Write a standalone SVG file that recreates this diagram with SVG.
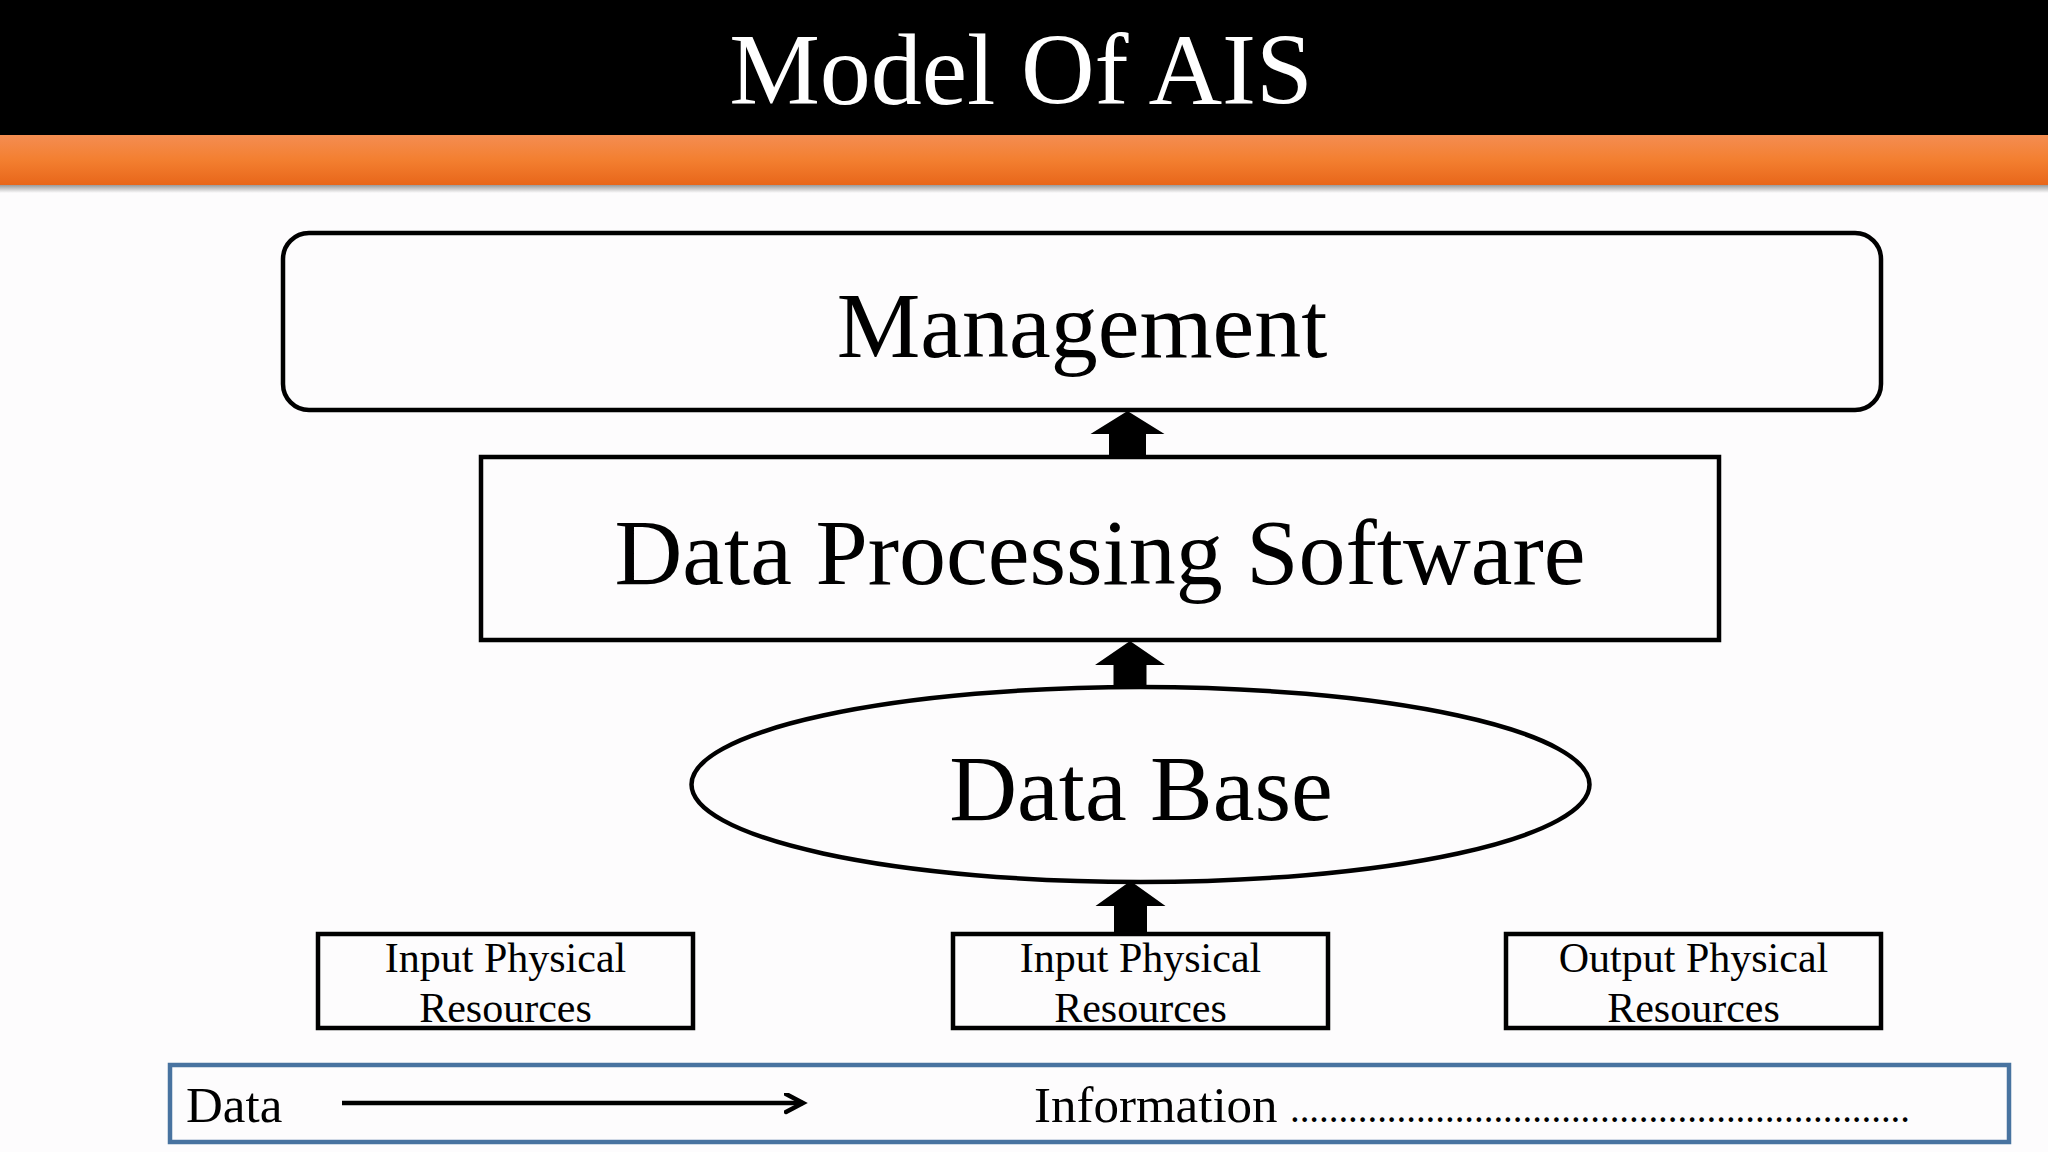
<svg xmlns="http://www.w3.org/2000/svg" width="2048" height="1152" viewBox="0 0 2048 1152">
  <defs>
    <linearGradient id="orange" x1="0" y1="0" x2="0" y2="1">
      <stop offset="0" stop-color="#f48d52"/>
      <stop offset="0.5" stop-color="#f37f30"/>
      <stop offset="1" stop-color="#e8661a"/>
    </linearGradient>
    <linearGradient id="shadow" x1="0" y1="0" x2="0" y2="1">
      <stop offset="0" stop-color="#9a9a9a"/>
      <stop offset="1" stop-color="#fdfcfd"/>
    </linearGradient>
    <marker id="chev" markerWidth="24" markerHeight="24" refX="19" refY="10" orient="auto" markerUnits="userSpaceOnUse">
      <path d="M2,1 L19,10 L2,19" fill="none" stroke="#000" stroke-width="4.5" stroke-linecap="round" stroke-linejoin="miter"/>
    </marker>
  </defs>
  <style>
    .box { fill: #fdfcfd; stroke: #000; stroke-width: 4.5; }
    .big { font-family: "Liberation Serif", "Times New Roman", serif; font-size: 94px; fill: #000; text-anchor: middle; }
    .small { font-family: "Liberation Serif", "Times New Roman", serif; font-size: 42px; fill: #000; text-anchor: middle; }
    .bar { font-family: "Liberation Serif", "Times New Roman", serif; font-size: 51px; fill: #000; }
    .arrow { fill: #000; }
  </style>

  <rect x="0" y="0" width="2048" height="1152" fill="#fdfcfd"/>

  <g id="header">
    <rect x="0" y="0" width="2048" height="135" fill="#000"/>
    <rect x="0" y="135" width="2048" height="50" fill="url(#orange)"/>
    <rect x="0" y="185" width="2048" height="8" fill="url(#shadow)"/>
    <text x="1021" y="104" font-family="Liberation Serif, 'Times New Roman', serif" font-size="102" fill="#fff" text-anchor="middle">Model Of AIS</text>
  </g>

  <g id="management">
    <rect class="box" x="283" y="233" width="1598" height="177" rx="26" ry="26"/>
    <text class="big" x="1082" y="357">Management</text>
  </g>

  <g id="data-processing-software">
    <rect class="box" x="481" y="457" width="1238" height="183"/>
    <text class="big" x="1100" y="584">Data Processing Software</text>
  </g>

  <g id="data-base">
    <ellipse class="box" cx="1140.5" cy="784.5" rx="449" ry="97.5"/>
    <text class="big" x="1141" y="820">Data Base</text>
  </g>

  <g id="input-physical-resources-1">
    <rect class="box" x="318" y="934" width="375" height="94"/>
    <text class="small" x="505.5" y="972">Input Physical</text>
    <text class="small" x="505.5" y="1022">Resources</text>
  </g>

  <g id="input-physical-resources-2">
    <rect class="box" x="953" y="934" width="375" height="94"/>
    <text class="small" x="1140.5" y="972">Input Physical</text>
    <text class="small" x="1140.5" y="1022">Resources</text>
  </g>

  <g id="output-physical-resources">
    <rect class="box" x="1506" y="934" width="375" height="94"/>
    <text class="small" x="1693.5" y="972">Output Physical</text>
    <text class="small" x="1693.5" y="1022">Resources</text>
  </g>

  <g id="data-information-bar">
    <rect x="170" y="1065" width="1839" height="77" fill="#fdfcfd" stroke="#4873a0" stroke-width="4.5"/>
    <text class="bar" x="186" y="1122">Data</text>
    <text class="bar" x="1034" y="1122">Information</text>
    <text x="1290" y="1122" font-family="Liberation Serif, 'Times New Roman', serif" font-size="39" fill="#000" textLength="620" lengthAdjust="spacing">................................................................</text>
  </g>

  <g id="connectors">
    <polygon class="arrow" points="1127.5,411 1164.5,434 1146,434 1146,457 1109,457 1109,434 1090.5,434"/>
    <polygon class="arrow" points="1130,641 1165,665 1146.5,665 1146.5,688 1113.5,688 1113.5,665 1095,665"/>
    <polygon class="arrow" points="1130.5,881 1165.5,906 1147,906 1147,934 1114,934 1114,906 1095.5,906"/>
    <line x1="342" y1="1103" x2="803" y2="1103" stroke="#000" stroke-width="4.5" marker-end="url(#chev)"/>
  </g>
</svg>
